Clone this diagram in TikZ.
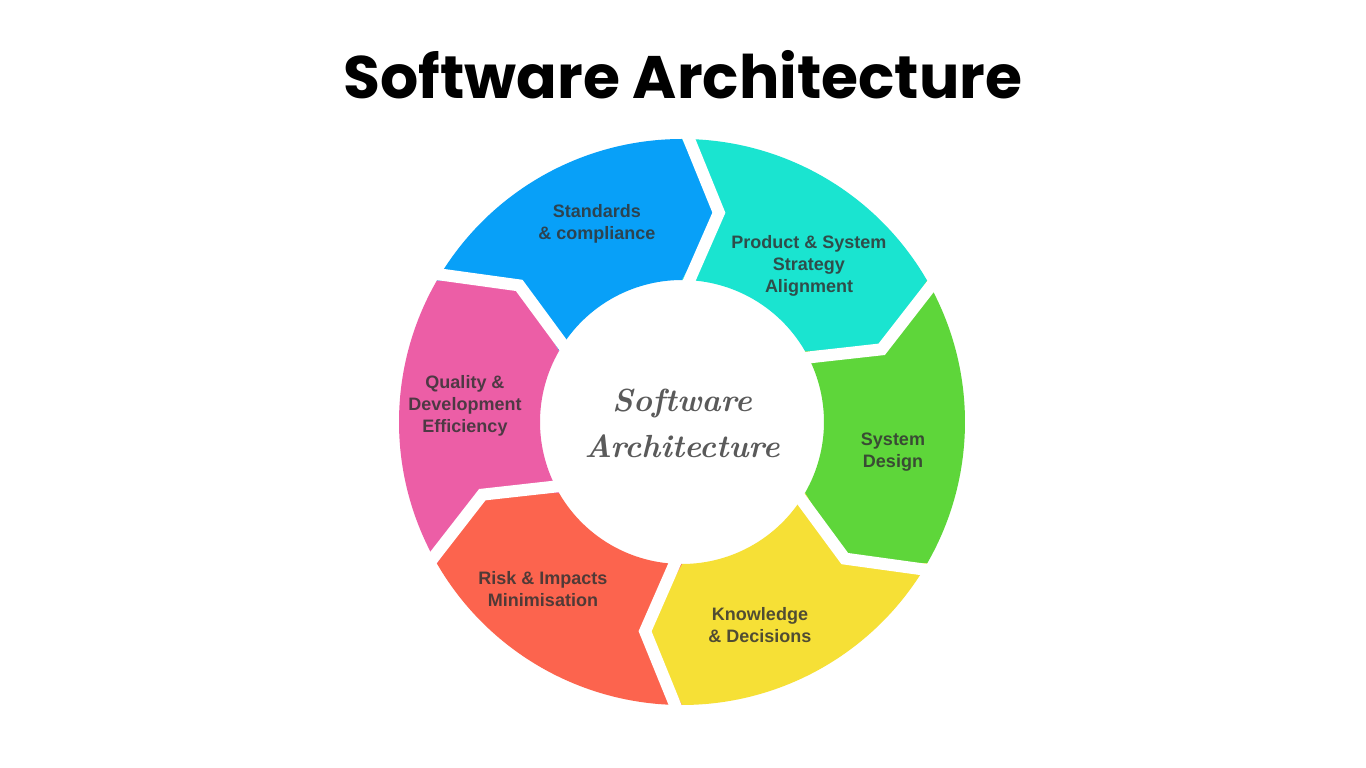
\documentclass[tikz,border=0pt]{standalone}
\usepackage{fontspec}
\newfontfamily\labelfont{Liberation Sans}
\newfontfamily\titlefont{Poppins}
\definecolor{cblue}{HTML}{08A0F8}
\definecolor{ccyan}{HTML}{1AE4D0}
\definecolor{cgreen}{HTML}{5ED63A}
\definecolor{cyellow}{HTML}{F6E036}
\definecolor{cred}{HTML}{FC644E}
\definecolor{cpink}{HTML}{EC5EA6}
\definecolor{ctext}{HTML}{333333}
\definecolor{cscript}{HTML}{5A5A5A}
\begin{document}
\begin{tikzpicture}[x=1pt,y=1pt,
  lbl/.style={font=\labelfont\bfseries\fontsize{18}{22}\selectfont, text=ctext, text opacity=0.85, align=center},
  gapline/.style={draw=white, line width=12pt, line join=miter, miter limit=20}]
\useasboundingbox (-682,-346) rectangle (684,422);
\fill[white] (-682,-346) rectangle (684,422);
% segments: b1 (counter-clockwise end), b2 = b1-60
\foreach \bA/\col in {150/cblue, 90/ccyan, 30/cgreen, -30/cyellow, -90/cred, 210/cpink}{
  \pgfmathsetmacro\bB{\bA-60}
  \pgfmathsetmacro\tA{\bA-10}
  \pgfmathsetmacro\tB{\bB-10}
  \fill[\col] (\bA:283) arc[start angle=\bA, end angle=\bB, radius=283]
     -- (\tB:212.5) -- (\bB:142) arc[start angle=\bB, end angle=\bA, radius=142]
     -- (\tA:212.5) -- cycle;
}
% white gaps
\foreach \b in {150, 90, 30, -30, -90, 210}{
  \pgfmathsetmacro\t{\b-10}
  \draw[gapline] (\b:300) -- (\t:212.5) -- (\b:125);
}
% title
\node[anchor=base, font=\titlefont\bfseries\fontsize{60}{64}\selectfont, text=black] (title) at (1,323) {Software Architecture};
% labels
\node[lbl] (std) at (-85,198) {Standards\\\& compliance};
\node[lbl] (prod) at (127,156) {Product \& System\\Strategy\\Alignment};
\node[lbl] (sysd) at (211,-30) {System\\Design};
\node[lbl] (know) at (78,-203) {Knowledge\\\& Decisions};
\node[lbl] (risk) at (-139,-167) {Risk \& Impacts\\Minimisation};
\node[lbl] (qual) at (-217,16) {Quality \&\\Development\\Efficiency};
% center
\node[font=\bfseries\itshape\fontsize{32}{46}\selectfont, text=cscript, align=center] (center) at (0,-1) {Software\\Architecture};
\end{tikzpicture}
\end{document}
